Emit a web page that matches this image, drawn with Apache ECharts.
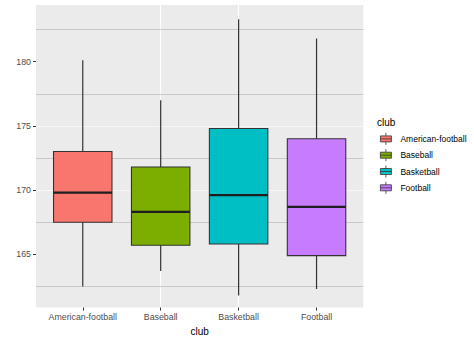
<!DOCTYPE html>
<html>
<head>
<meta charset="utf-8">
<script src="https://cdn.jsdelivr.net/npm/echarts@6/dist/echarts.min.js"></script>
<style>
  html, body { margin: 0; padding: 0; background: #ffffff; }
  #chart { width: 474px; height: 338px; }
</style>
</head>
<body>
<div id="chart"></div>
<script>
// ---- data ----
const categories = ['American-football', 'Baseball', 'Basketball', 'Football'];
const whiskerLow  = [162.5, 163.7, 161.8, 162.3];
const lowerQuart  = [167.5, 165.7, 165.8, 164.9];
const medians     = [169.8, 168.3, 169.6, 168.7];
const upperQuart  = [173.0, 171.8, 174.8, 174.0];
const whiskerHigh = [180.1, 177.0, 183.3, 181.8];
const yTicks      = [165, 170, 175, 180];
const yMinorTicks = [162.5, 167.5, 172.5, 177.5, 182.5];

// ---- styles ----
const palette = ['#F8766D', '#7CAE00', '#00BFC4', '#C77CFF'];
const FONT = "'Liberation Sans', Arial, sans-serif";
const Y_MIN = 160.85, Y_MAX = 184.41;
const X_MIN = 0.4, X_MAX = 4.6;
const xPositions = categories.map((c, i) => i + 1);

function renderBox(params, api) {
  const x = api.value(0);
  const w = api.size([0.75, 0])[0];
  const pLow = api.coord([x, api.value(1)]);
  const pQ1 = api.coord([x, api.value(2)]);
  const pMed = api.coord([x, api.value(3)]);
  const pQ3 = api.coord([x, api.value(4)]);
  const pHigh = api.coord([x, api.value(5)]);
  const color = api.visual('color');
  const stroke = '#333333';
  return {
    type: 'group',
    children: [
      { type: 'line', shape: { x1: pLow[0], y1: pLow[1], x2: pQ1[0], y2: pQ1[1] },
        style: { stroke: stroke, lineWidth: 1.2 } },
      { type: 'line', shape: { x1: pQ3[0], y1: pQ3[1], x2: pHigh[0], y2: pHigh[1] },
        style: { stroke: stroke, lineWidth: 1.2 } },
      { type: 'rect', shape: { x: pQ3[0] - w / 2, y: pQ3[1], width: w, height: pQ1[1] - pQ3[1] },
        style: { fill: color, stroke: stroke, lineWidth: 1.1 } },
      { type: 'line', shape: { x1: pMed[0] - w / 2, y1: pMed[1], x2: pMed[0] + w / 2, y2: pMed[1] },
        style: { stroke: '#1e1e1e', lineWidth: 2.3 } }
    ]
  };
}

const series = categories.map((name, i) => ({
  type: 'custom',
  name: name,
  color: palette[i],
  coordinateSystem: 'cartesian2d',
  xAxisIndex: 0,
  yAxisIndex: 0,
  encode: { x: 0, y: [1, 2, 3, 4, 5] },
  renderItem: renderBox,
  data: [[xPositions[i], whiskerLow[i], lowerQuart[i], medians[i], upperQuart[i], whiskerHigh[i]]]
}));

const chart = echarts.init(document.getElementById('chart'), null, { renderer: 'svg' });
chart.setOption({
  animation: false,
  backgroundColor: '#ffffff',
  textStyle: { fontFamily: FONT },
  title: {
    text: 'club', left: 377, top: 117, padding: 0,
    textStyle: { fontSize: 10, fontWeight: 'normal', color: '#000000', fontFamily: FONT }
  },
  legend: {
    orient: 'vertical', left: 380, top: 132.5, padding: 0,
    itemWidth: 11, itemHeight: 12, itemGap: 3.5,
    selectedMode: false,
    icon: 'path://M0,3L11,3L11,9L0,9Z M0,6L11,6 M5.5,0L5.5,3 M5.5,9L5.5,12',
    itemStyle: { borderColor: '#333333', borderWidth: 0.8 },
    textStyle: { fontSize: 8.5, color: '#000000', fontFamily: FONT, padding: [0, 0, 0, 4] },
    data: categories
  },
  grid: {
    left: 36, right: 110.7, top: 5, bottom: 30.4,
    show: true, backgroundColor: '#EBEBEB', borderWidth: 0,
    containLabel: false, outerBoundsMode: 'none'
  },
  xAxis: {
    type: 'value', min: X_MIN, max: X_MAX, splitNumber: 4,
    axisLine: { show: false },
    splitLine: { show: true, showMinLine: false, showMaxLine: false,
      lineStyle: { color: '#ffffff', width: 1.1 } },
    axisTick: { show: true, customValues: xPositions, length: 3,
      lineStyle: { color: '#333333', width: 1 } },
    axisLabel: { customValues: xPositions, margin: 5, fontSize: 8.8, color: '#4D4D4D',
      fontFamily: FONT,
      formatter: v => categories[Math.round(v) - 1] || '' },
    name: 'club', nameLocation: 'middle', nameGap: 13,
    nameTextStyle: { fontSize: 10, color: '#000000', fontFamily: FONT }
  },
  yAxis: [{
    type: 'value', min: Y_MIN, max: Y_MAX, splitNumber: 5,
    axisLine: { show: false },
    splitLine: { show: true, showMinLine: false, showMaxLine: false,
      lineStyle: { color: '#F7F7F7', width: 1.1 } },
    axisTick: { show: true, customValues: yTicks, length: 3,
      lineStyle: { color: '#333333', width: 1 } },
    axisLabel: { customValues: yTicks, margin: 5, fontSize: 8.8, color: '#4D4D4D',
      fontFamily: FONT }
  }, {
    type: 'value', min: Y_MIN, max: Y_MAX, position: 'left', offset: 0,
    axisLine: { show: false },
    splitLine: { show: false },
    axisLabel: { show: false },
    axisTick: { show: true, inside: true, length: 327.3, customValues: yMinorTicks,
      lineStyle: { color: '#C8C8C8', width: 1.1 } }
  }],
  series: series
});
</script>
</body>
</html>
